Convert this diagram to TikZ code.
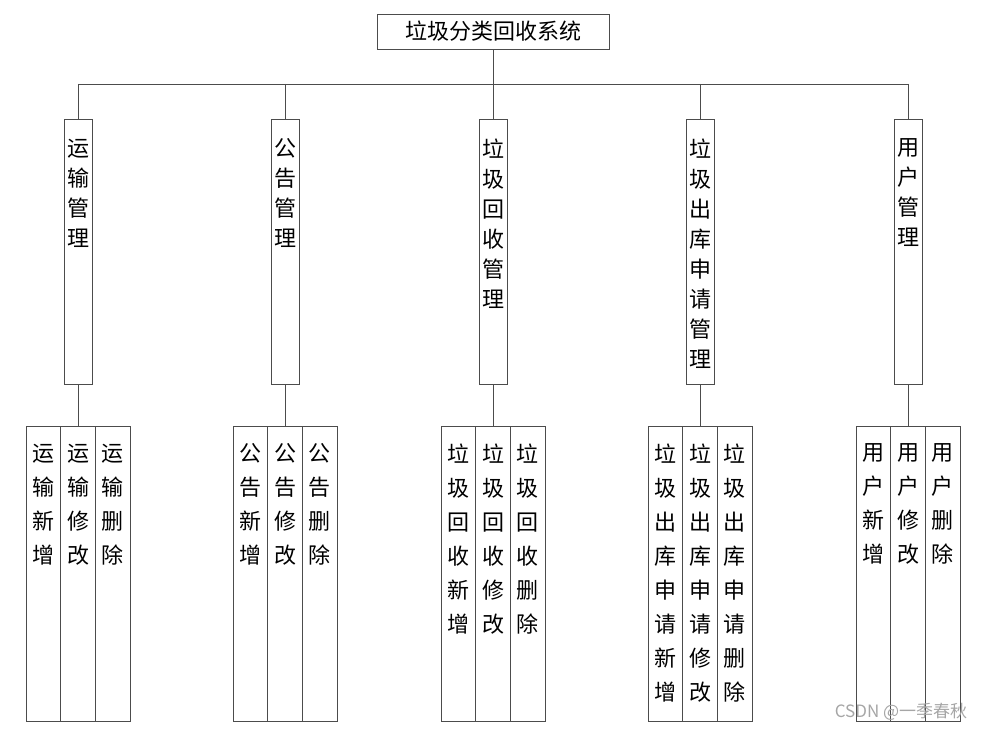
\documentclass[tikz,border=0pt]{standalone}
\usepackage{fontspec}
\newfontfamily\cjk{Noto Sans CJK SC}
\begin{document}
\begin{tikzpicture}[x=1pt,y=-1pt,
  box/.style={draw=black!70, line width=0.8pt, rectangle, inner sep=0pt},
  topbox/.style={box, minimum width=232pt, minimum height=35pt, font=\cjk\fontsize{22}{26}\selectfont},
  midbox/.style={box, minimum width=28pt, minimum height=265pt},
  leafbox/.style={box, minimum width=34.7pt, minimum height=295pt},
  midtxt/.style={anchor=north, inner sep=0pt, align=center, font=\cjk\fontsize{22}{30}\selectfont},
  leaftxt/.style={anchor=north, inner sep=0pt, align=center, font=\cjk\fontsize{22}{34}\selectfont},
  link/.style={draw=black!70, line width=0.8pt}]
\useasboundingbox (0,0) rectangle (985,730);

\node[topbox] (root) at (493,31.5) {垃圾分类回收系统};

% level 2
\node[midbox] (m1) at (78,251.5) {};
\node[midbox] (m2) at (285,251.5) {};
\node[midbox] (m3) at (493,251.5) {};
\node[midbox] (m4) at (700,251.5) {};
\node[midbox] (m5) at (908,251.5) {};
\node[midtxt] (tm1) at ([yshift=-20pt]m1.north) {运\\输\\管\\理};
\node[midtxt] (tm2) at ([yshift=-20pt]m2.north) {公\\告\\管\\理};
\node[midtxt] (tm3) at ([yshift=-20pt]m3.north) {垃\\圾\\回\\收\\管\\理};
\node[midtxt] (tm4) at ([yshift=-20pt]m4.north) {垃\\圾\\出\\库\\申\\请\\管\\理};
\node[midtxt] (tm5) at ([yshift=-20pt]m5.north) {用\\户\\管\\理};

% level 3
\foreach \g/\c in {1/78,2/285,3/493,4/700,5/908}{
  \node[leafbox] (a\g) at (\c-34.7,573.5) {};
  \node[leafbox] (b\g) at (\c,573.5) {};
  \node[leafbox] (c\g) at (\c+34.7,573.5) {};
}
\node[leaftxt] (ta1) at ([yshift=-18pt]a1.north) {运\\输\\新\\增};
\node[leaftxt] (tb1) at ([yshift=-18pt]b1.north) {运\\输\\修\\改};
\node[leaftxt] (tc1) at ([yshift=-18pt]c1.north) {运\\输\\删\\除};
\node[leaftxt] (ta2) at ([yshift=-18pt]a2.north) {公\\告\\新\\增};
\node[leaftxt] (tb2) at ([yshift=-18pt]b2.north) {公\\告\\修\\改};
\node[leaftxt] (tc2) at ([yshift=-18pt]c2.north) {公\\告\\删\\除};
\node[leaftxt] (ta3) at ([yshift=-18pt]a3.north) {垃\\圾\\回\\收\\新\\增};
\node[leaftxt] (tb3) at ([yshift=-18pt]b3.north) {垃\\圾\\回\\收\\修\\改};
\node[leaftxt] (tc3) at ([yshift=-18pt]c3.north) {垃\\圾\\回\\收\\删\\除};
\node[leaftxt] (ta4) at ([yshift=-18pt]a4.north) {垃\\圾\\出\\库\\申\\请\\新\\增};
\node[leaftxt] (tb4) at ([yshift=-18pt]b4.north) {垃\\圾\\出\\库\\申\\请\\修\\改};
\node[leaftxt] (tc4) at ([yshift=-18pt]c4.north) {垃\\圾\\出\\库\\申\\请\\删\\除};
\node[leaftxt] (ta5) at ([yshift=-18pt]a5.north) {用\\户\\新\\增};
\node[leaftxt] (tb5) at ([yshift=-18pt]b5.north) {用\\户\\修\\改};
\node[leaftxt] (tc5) at ([yshift=-18pt]c5.north) {用\\户\\删\\除};

% connectors
\coordinate (bus) at (493,84);
\draw[link] (root.south) -- (bus);
\draw[link] (m1.north |- bus) -- (m5.north |- bus);
\foreach \i in {1,...,5}{
  \draw[link] (m\i.north |- bus) -- (m\i.north);
  \draw[link] (m\i.south) -- (b\i.north);
}

\node[font=\cjk\fontsize{17}{17}\selectfont, text=black!35, inner sep=0pt] (wm) at (901,712) {CSDN @一季春秋};
\end{tikzpicture}
\end{document}
